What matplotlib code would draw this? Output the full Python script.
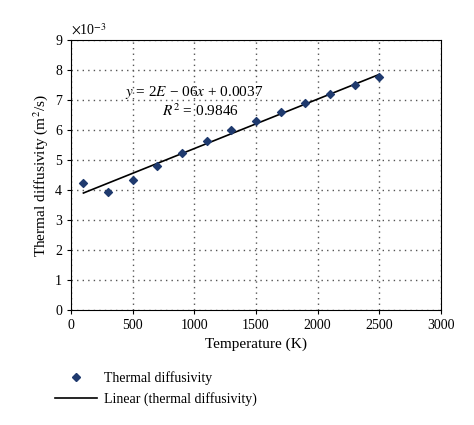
import matplotlib
matplotlib.use("Agg")
import matplotlib.pyplot as plt
import numpy as np
from matplotlib.lines import Line2D

temperature = [100, 300, 500, 700, 900, 1100, 1300, 1500, 1700, 1900, 2100, 2300, 2500]
diffusivity = [4.25, 3.95, 4.35, 4.8, 5.25, 5.65, 6.0, 6.3, 6.6, 6.9, 7.2, 7.5, 7.78]

plt.rcParams['font.family'] = ['Liberation Serif', 'DejaVu Serif']
plt.rcParams['mathtext.fontset'] = 'stix'
fig = plt.figure(figsize=(4.74, 4.25), dpi=100)
ax = fig.add_axes([0.15, 0.27, 0.78, 0.635])
x = np.array(temperature); y = np.array(diffusivity)
m, b = np.polyfit(x, y, 1)
ax.plot([x[0], x[-1]], [m*x[0]+b, m*x[-1]+b], color='black', lw=1.2)
ax.scatter(x, y, marker='D', s=16, color='#1f3a6e', edgecolor='#1f3a6e', zorder=3)
ax.set_xlim(0, 3000); ax.set_ylim(0, 9)
ax.set_xticks(range(0, 3001, 500)); ax.set_yticks(range(0, 10))
ax.grid(True, linestyle=(0, (1, 3)), color='#555555', lw=1)
ax.tick_params(labelsize=10, direction='out', length=3)
ax.set_xlabel('Temperature (K)', fontsize=11)
ax.set_ylabel('Thermal diffusivity (m$^2$/s)', fontsize=11)
ax.text(0.0, 1.01, r'$\times$10$^{-3}$', transform=ax.transAxes, fontsize=10, ha='left', va='bottom')
ax.text(1000, 7.25, r'$y$ = 2$E$ − 06$x$ + 0.0037', fontsize=11, ha='center', va='center')
ax.text(1050, 6.65, r'$R^2$ = 0.9846', fontsize=11, ha='center', va='center')
handles = [Line2D([], [], marker='D', ls='none', color='#1f3a6e', markersize=4),
           Line2D([], [], color='black', lw=1.2)]
fig.legend(handles, ['Thermal diffusivity', 'Linear (thermal diffusivity)'],
           loc='lower left', bbox_to_anchor=(0.09, 0.015), frameon=False, fontsize=10,
           handlelength=3.0, handletextpad=0.5)
fig.savefig('out.png', dpi=100)
